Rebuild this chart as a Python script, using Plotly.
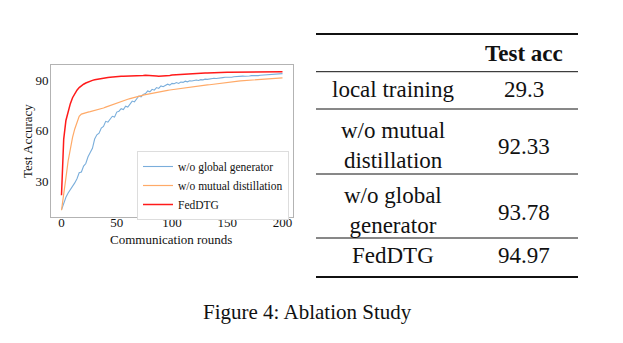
import plotly.graph_objects as go

W, H = 623, 343

rounds = list(range(0, 201, 2))

fed_dtg = [21.7, 55.0, 66.0, 72.0, 76.0, 79.5, 82.0, 84.0, 85.5, 86.8,
           87.5, 88.2, 88.8, 89.3, 89.8, 90.1, 90.4, 90.7, 90.9, 91.1,
           91.3, 91.5, 91.6, 91.8, 91.9, 92.0, 92.1, 92.2, 92.3, 92.3,
           92.4, 92.5, 92.5, 92.6, 92.6, 92.7, 92.7, 92.7, 92.8, 92.8,
           92.7, 92.6, 92.5, 92.4, 92.3, 92.3, 92.4, 92.5, 92.6, 92.7,
           92.9, 93.0, 93.1, 93.3, 93.4, 93.5, 93.6, 93.6, 93.7, 93.7,
           93.8, 93.9, 93.9, 94.0, 94.0, 94.1, 94.1, 94.2, 94.2, 94.3,
           94.3, 94.4, 94.4, 94.5, 94.5, 94.6, 94.6, 94.6, 94.7, 94.7,
           94.7, 94.8, 94.8, 94.8, 94.8, 94.8, 94.9, 94.9, 94.9, 94.9,
           94.9, 94.9, 94.9, 94.9, 94.9, 94.9, 94.9, 94.9, 94.9, 94.9,
           94.9]

wo_global_gen = [13.0, 17.0, 20.5, 23.0, 25.0, 26.5, 29.0, 31.5, 35.0, 35.5,
                 39.0, 40.5, 44.5, 47.0, 49.5, 55.0, 57.5, 58.5, 61.5, 62.5,
                 65.5, 65.0, 66.5, 68.5, 68.0, 71.0, 71.5, 73.0, 72.5, 74.5,
                 74.0, 76.0, 77.5, 77.0, 79.0, 80.5, 80.0, 81.5, 82.0, 83.5,
                 83.0, 84.5, 84.0, 85.5, 85.0, 86.5, 86.0, 86.8, 87.5, 87.0,
                 88.0, 87.8, 88.5, 88.0, 88.8, 88.6, 89.3, 88.9, 89.5, 89.4,
                 89.8, 90.0, 89.7, 90.2, 90.1, 90.5, 90.4, 90.7, 90.6, 91.0,
                 90.9, 91.2, 91.1, 91.4, 91.6, 91.5, 91.7, 91.6, 91.9, 92.1,
                 92.0, 92.2, 92.3, 92.2, 92.5, 92.4, 92.6, 92.5, 92.7, 92.6,
                 92.8, 92.9, 92.8, 93.0, 93.0, 93.1, 93.0, 93.3, 93.5, 93.6,
                 93.8]

wo_mutual_dist = [12.8, 24.0, 32.0, 42.0, 50.0, 56.0, 61.0, 65.5, 68.5, 69.8,
                  70.3, 70.7, 71.0, 71.3, 71.6, 71.9, 72.2, 72.6, 73.0, 73.4,
                  73.9, 74.4, 75.0, 75.5, 76.0, 76.5, 77.0, 77.4, 77.8, 78.2,
                  78.6, 79.0, 79.4, 79.8, 80.1, 80.4, 80.7, 81.0, 81.3, 81.6,
                  81.9, 82.1, 82.4, 82.6, 82.9, 83.1, 83.4, 83.6, 83.9, 84.1,
                  84.3, 84.5, 84.7, 84.9, 85.1, 85.3, 85.5, 85.7, 85.9, 86.0,
                  86.1, 86.3, 86.4, 86.6, 86.8, 86.9, 87.1, 87.2, 87.4, 87.6,
                  87.8, 87.9, 88.1, 88.2, 88.4, 88.6, 88.7, 88.8, 89.0, 89.2,
                  89.4, 89.5, 89.6, 89.7, 89.9, 90.0, 90.1, 90.2, 90.3, 90.4,
                  90.5, 90.6, 90.7, 90.8, 90.9, 90.9, 91.0, 91.1, 91.2, 91.2,
                  91.3]

y_ticks = [30, 60, 90]
x_ticks = [0, 50, 100, 150, 200]

table_methods = ["local training", "w/o mutual<br>distillation",
                 "w/o global<br>generator", "FedDTG"]
table_acc = ["29.3", "92.33", "93.78", "94.97"]
table_header = "Test acc"
caption = "Figure 4: Ablation Study"

SERIF = "Liberation Serif"

fig = go.Figure()
fig.add_trace(go.Scatter(x=rounds, y=wo_global_gen, mode="lines",
                         name="w/o global generator",
                         line=dict(color="#7aaedb", width=1.1)))
fig.add_trace(go.Scatter(x=rounds, y=wo_mutual_dist, mode="lines",
                         name="w/o mutual distillation",
                         line=dict(color="#ffaa68", width=1.2)))
fig.add_trace(go.Scatter(x=rounds, y=fed_dtg, mode="lines",
                         name="FedDTG",
                         line=dict(color="#ff1a1a", width=1.5)))

def px(x):
    return x / W

def py(y):
    return 1 - y / H

plot_l, plot_r, plot_t, plot_b = 51, 293, 65, 217

axis_common = dict(showgrid=False, zeroline=False, showline=True, mirror=True,
                   linecolor="#b3b3b3", linewidth=1, ticks="",
                   tickfont=dict(family=SERIF, size=13, color="#111"))

fig.update_layout(
    width=W, height=H,
    margin=dict(l=0, r=0, t=0, b=0),
    paper_bgcolor="white", plot_bgcolor="white",
    showlegend=True,
    legend=dict(x=px(137), y=py(151), xanchor="left", yanchor="top",
                bgcolor="white", bordercolor="#dddddd", borderwidth=1,
                font=dict(family=SERIF, size=11.5, color="#111"),
                tracegroupgap=0, itemwidth=30),
    xaxis=dict(domain=[px(plot_l), px(plot_r)], range=[-9.5, 209.5],
               tickvals=x_ticks, ticklabelstandoff=-7, **axis_common),
    yaxis=dict(domain=[py(plot_b), py(plot_t)], range=[8.8, 98.9],
               tickvals=y_ticks, ticklabelstandoff=-1, **axis_common),
)

ann = []
ann.append(dict(x=px(171), y=py(239), text="Communication rounds",
                font=dict(family=SERIF, size=13, color="#111")))
ann.append(dict(x=px(27), y=py(141), text="Test Accuracy", textangle=-90,
                font=dict(family=SERIF, size=13, color="#111")))
ann.append(dict(x=px(307), y=py(312), text=caption,
                font=dict(family=SERIF, size=21, color="#111")))

col1, col2 = 393, 524
tfont = dict(family=SERIF, size=23, color="#111")
ann.append(dict(x=px(col2), y=py(53), text="<b>" + table_header + "</b>", font=tfont))
row_text_y = [90, 145, 210.5, 255.7]
row_val_y = [90, 146.7, 212.5, 255.7]
for t, ty, val, vy in zip(table_methods, row_text_y, table_acc, row_val_y):
    ann.append(dict(x=px(col1), y=py(ty), text=t, font=tfont))
    ann.append(dict(x=px(col2), y=py(vy), text=val, font=tfont))

for a in ann:
    a.update(xref="paper", yref="paper", showarrow=False,
             xanchor="center", yanchor="middle")
fig.update_layout(annotations=ann)

shapes = []
for yy, w in [(34, 1.8), (71.7, 1.0), (109, 1.0), (174, 1.0), (238, 1.0), (277, 1.8)]:
    shapes.append(dict(type="line", xref="paper", yref="paper",
                       x0=px(316), x1=px(578), y0=py(yy), y1=py(yy),
                       line=dict(color="#111", width=w)))
fig.update_layout(shapes=shapes)

fig.write_html("out.html")
